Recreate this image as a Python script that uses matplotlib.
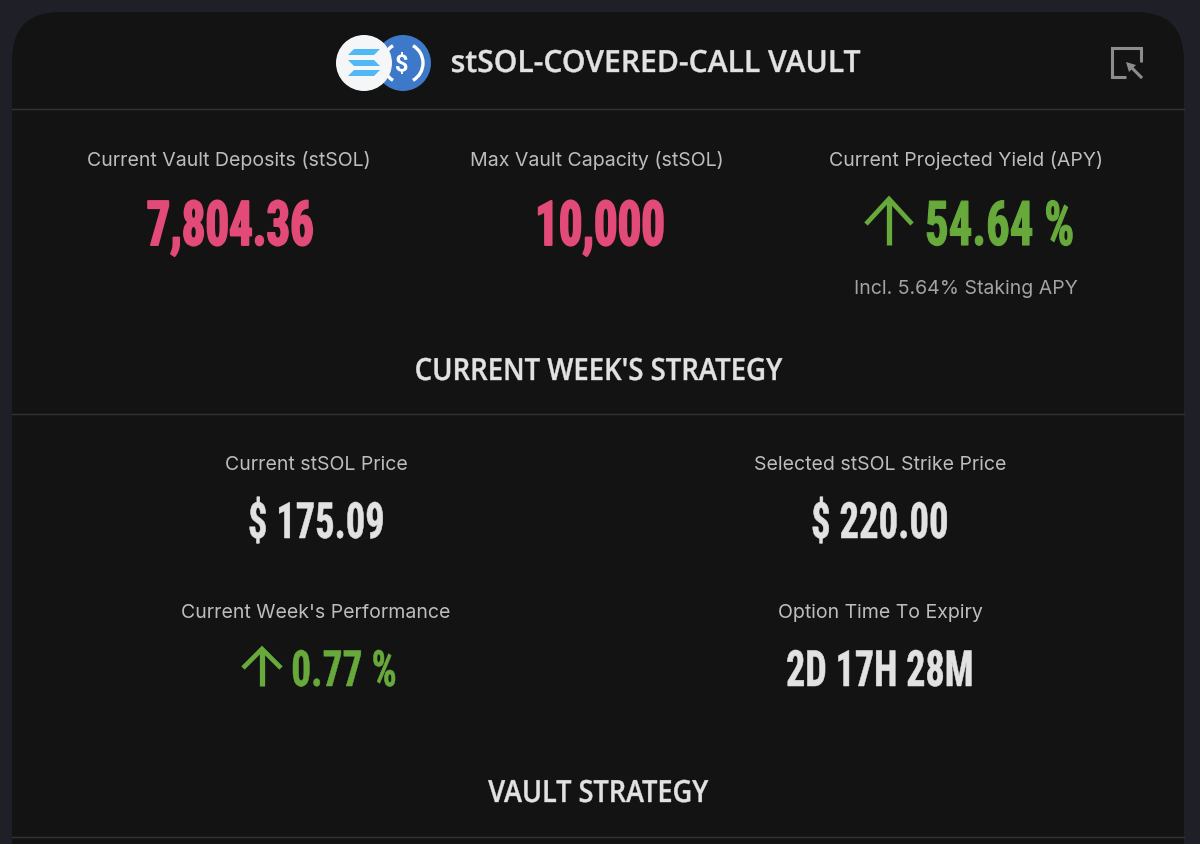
import matplotlib.pyplot as plt
from matplotlib.patches import FancyBboxPatch, Circle, Polygon, Arc
from matplotlib.patheffects import AbstractPathEffect
from matplotlib.transforms import Affine2D

# text in the card
title = "stSOL-COVERED-CALL VAULT"
top_labels = ["Current Vault Deposits (stSOL)", "Max Vault Capacity (stSOL)", "Current Projected Yield (APY)"]
top_values = ["7,804.36", "10,000", "54.64 %"]
staking_note = "Incl. 5.64% Staking APY"
section_titles = ["CURRENT WEEK'S STRATEGY", "VAULT STRATEGY"]
week_labels = ["Current stSOL Price", "Selected stSOL Strike Price", "Current Week's Performance", "Option Time To Expiry"]
week_values = ["$ 175.09", "$ 220.00", "0.77 %", "2D 17H 28M"]

BG = "#1f2027"
CARD = "#131313"
LINE = "#333333"
PINK = "#e24a78"
GREEN = "#67a93a"
LABEL = "#bdbdbd"
WHITE = "#e2e2e2"
GREY = "#8c8c8c"
BLUE = "#3e78c8"
STRIPE = "#4fb8f5"


class Squeeze(AbstractPathEffect):
    # narrows a text to a given pixel width about its centre, the installed fonts are too wide
    def __init__(self, width, stroke=0):
        super().__init__()
        self.width = width
        self.stroke = stroke

    def draw_path(self, renderer, gc, tpath, affine, rgbFace=None):
        box = tpath.get_extents(affine)
        mid = (box.x0 + box.x1) / 2
        squeezed = affine + Affine2D().translate(-mid, 0).scale(self.width / box.width, 1).translate(mid, 0)
        gc0 = renderer.new_gc()
        gc0.copy_properties(gc)
        gc0.set_linewidth(self.stroke)
        gc0.set_foreground(rgbFace)
        renderer.draw_path(gc0, tpath, squeezed, rgbFace)
        gc0.restore()


def big_text(ax, x, y, s, color, width, size=44.5, stroke=0.0):
    ax.text(x, y, s, color=color, fontsize=size, family="Roboto Condensed", fontweight="bold",
            ha="center", va="baseline", path_effects=[Squeeze(width, stroke)])


def label_text(ax, x, y, s, color=LABEL, size=14.05):
    ax.text(x, y, s, color=color, fontsize=size, family="Inter", ha="center", va="center")


def head_text(ax, x, y, s, width, size=22, stroke=0.3):
    ax.text(x, y, s, color=WHITE, fontsize=size, family="Open Sans", fontweight=600,
            ha="center", va="baseline", path_effects=[Squeeze(width, stroke)])


def up_arrow(ax, x, top, bottom, half, drop):
    ax.plot([x, x], [top + 3, bottom], color=GREEN, lw=3.8, solid_capstyle="butt")
    ax.plot([x - half, x, x + half], [top + drop, top + 3, top + drop], color=GREEN, lw=3.4,
            solid_joinstyle="miter", solid_capstyle="butt")


def main():
    fig = plt.figure(figsize=(12, 8.45), dpi=100, facecolor=BG)
    ax = fig.add_axes([0, 0, 1, 1])
    ax.set_xlim(0, 1200)
    ax.set_ylim(845, 0)
    ax.axis("off")

    # card with rounded top corners, runs off the bottom
    ax.add_patch(FancyBboxPatch((12, 13), 1172, 900, boxstyle="round,pad=0,rounding_size=48",
                                fc=CARD, ec="none", zorder=0))
    for y in [109.5, 414.5, 837.5]:
        ax.plot([12, 1184], [y, y], color=LINE, lw=1)

    # token logos
    ax.add_patch(Circle((403, 64), 28, fc=BLUE, ec="none"))
    ax.add_patch(Arc((403, 64), 40, 40, theta1=-60, theta2=60, color="white", lw=2.4))
    ax.add_patch(Arc((403, 64), 40, 40, theta1=120, theta2=240, color="white", lw=2.4))
    ax.text(402, 64, "$", color="white", fontsize=17, family="Roboto", fontweight="bold", ha="center", va="center")
    ax.add_patch(Circle((364, 64), 28, fc="#f5f6f7", ec="none"))
    ax.add_patch(Polygon([(348, 56), (354, 50), (380, 50), (374, 56)], fc=STRIPE, ec="none"))
    ax.add_patch(Polygon([(348, 61), (374, 61), (380, 67), (354, 67)], fc=STRIPE, ec="none"))
    ax.add_patch(Polygon([(348, 77), (354, 71), (380, 71), (374, 77)], fc=STRIPE, ec="none"))

    head_text(ax, 655, 73, title, 408)

    # expand icon in the corner
    ax.plot([1141, 1141, 1112, 1112, 1126], [63, 49, 49, 78, 78], color=GREY, lw=2.2,
            solid_joinstyle="miter", solid_capstyle="butt")
    ax.plot([1141, 1129], [78, 66], color=GREY, lw=2.2)
    ax.add_patch(Polygon([(1126, 63), (1136, 66), (1129, 73)], fc=GREY, ec="none"))

    # top row
    for x, s in zip([229, 597, 966], top_labels):
        label_text(ax, x, 160, s)
    big_text(ax, 230, 246, top_values[0], PINK, 164, stroke=1.4)
    big_text(ax, 599.5, 246, top_values[1], PINK, 124, stroke=1.4)
    big_text(ax, 999.5, 246, top_values[2], GREEN, 145, stroke=0.8)
    up_arrow(ax, 889, 197, 246, 23, 28)
    label_text(ax, 966, 289, staking_note, color="#a3a3a3")

    head_text(ax, 598, 381, section_titles[0], 366)

    # current week's block
    for (x, y), s in zip([(316, 465), (880, 465), (316, 613), (880, 613)], week_labels):
        label_text(ax, x, y, s)
    big_text(ax, 316.5, 539, week_values[0], WHITE, 133, size=36, stroke=0.4)
    big_text(ax, 880, 539, week_values[1], WHITE, 134, size=36, stroke=0.4)
    big_text(ax, 344, 687, week_values[2], GREEN, 102, size=36, stroke=0.4)
    big_text(ax, 880, 687, week_values[3], WHITE, 184, size=36, stroke=0.4)
    up_arrow(ax, 262, 647, 687, 19, 22)

    head_text(ax, 598, 803, section_titles[1], 220)

    fig.savefig("out.png", dpi=100, facecolor=BG)


if __name__ == "__main__":
    main()
